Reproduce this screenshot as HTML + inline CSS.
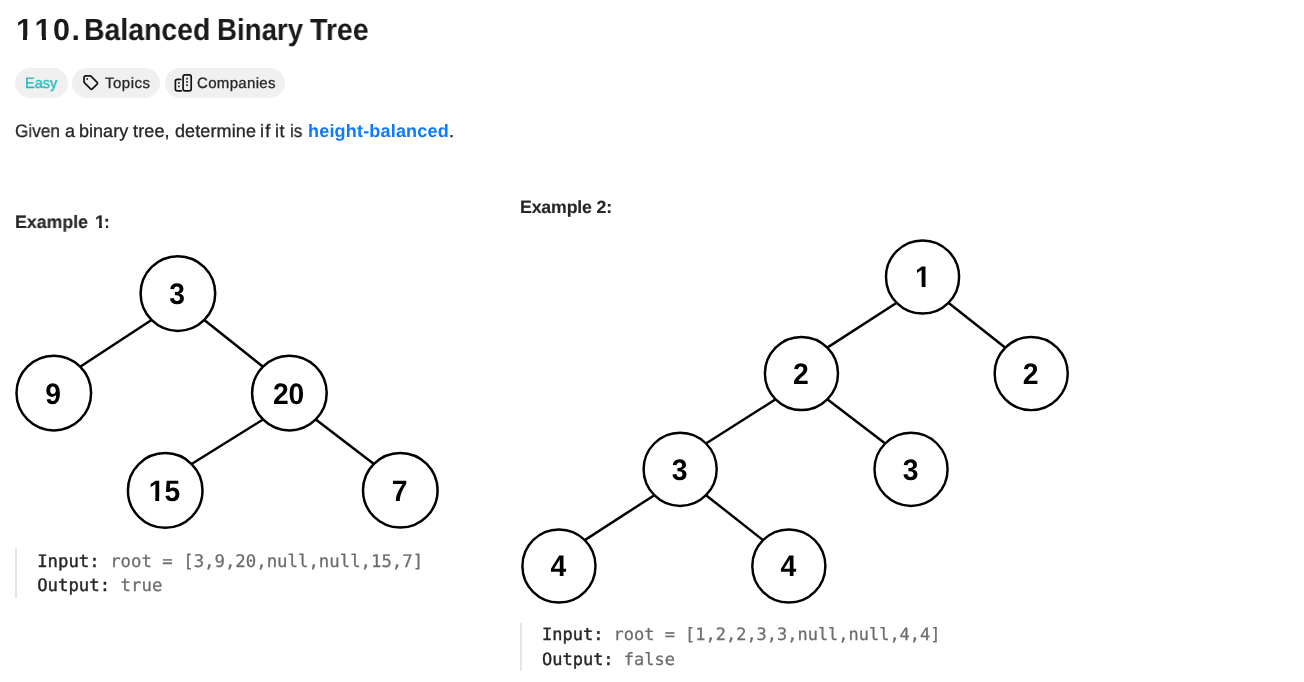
<!DOCTYPE html>
<html lang="en">
<head>
<meta charset="utf-8">
<title>110. Balanced Binary Tree</title>
<style>
html,body{margin:0;padding:0;background:#fff;}
body{width:1304px;height:682px;position:relative;overflow:hidden;font-family:"Liberation Sans",sans-serif;color:#262626;text-rendering:geometricPrecision;}
h1,p{margin:0;font-size:inherit;font-weight:inherit;}
.w{position:absolute;white-space:nowrap;line-height:1;transform-origin:0 0;will-change:transform;}
.t{font-size:30.5px;font-weight:700;color:#1a1a1a;}
.pl{font-size:15px;color:#262626;-webkit-text-stroke:0.3px;}
.pl.easy{color:#1cb8b8;}
.d{font-size:18px;color:#262626;-webkit-text-stroke:0.3px;}
.d.hl{font-weight:700;color:#0a7aff;-webkit-text-stroke:0;}
.ex{font-size:18px;font-weight:700;color:#262626;-webkit-text-stroke:0.15px;}
.m{position:absolute;background:#fff;will-change:transform;}
.pill{position:absolute;top:68px;height:29.6px;border-radius:15px;background:#f0f0f0;}
.ico{position:absolute;overflow:visible;}
pre{position:absolute;margin:0;box-sizing:border-box;border-left:2px solid #e6e6e6;font-family:"DejaVu Sans Mono","Liberation Mono",monospace;color:#6b6b6b;overflow:hidden;-webkit-text-stroke:0.25px #6b6b6b;}
pre b{color:#262626;font-weight:400;-webkit-text-stroke:0.38px #262626;}
svg.tree{position:absolute;left:0;top:0;}
svg.tree text{font-family:"Liberation Sans",sans-serif;font-weight:700;fill:#000;text-anchor:middle;text-rendering:geometricPrecision;}
</style>
</head>
<body>
<h1><span class="w t" style="left:16.18px;top:15px;font-kerning:none;letter-spacing:1.525px;">110.</span> <span class="w t" style="left:84.44px;top:15px;transform:scaleX(0.9314);">Balanced</span> <span class="w t" style="left:216.59px;top:15px;transform:scaleX(0.9067);">Binary</span> <span class="w t" style="left:309.75px;top:15px;transform:scaleX(0.9352);">Tree</span></h1>
<i class="m" style="left:17.30px;top:35.89px;width:6.00px;height:4.91px"></i><i class="m" style="left:27.48px;top:35.89px;width:5.61px;height:4.91px"></i><i class="m" style="left:35.78px;top:35.89px;width:6.00px;height:4.91px"></i><i class="m" style="left:45.97px;top:35.89px;width:5.61px;height:4.91px"></i>

<div class="pill" style="left:15px;width:52.6px;"></div>
<div class="pill" style="left:72.3px;width:87.3px;"></div>
<div class="pill" style="left:164.8px;width:120.6px;"></div>
<span class="w pl easy" style="left:24.69px;top:76px;transform:scaleX(0.9719);">Easy</span>
<svg class="ico" style="left:0;top:0;" width="300" height="110" viewBox="0 0 300 110" fill="none" stroke="#141414" stroke-width="1.7" stroke-linecap="round" stroke-linejoin="round">
<path d="M84.05 77.600Q84.05 75.900 85.750 75.900L90 75.900Q90.700 75.900 91.200 76.400L97.150 82.350Q98 83.200 97.150 84.050L92.300 88.900Q91.450 89.750 90.600 88.900L84.550 82.850Q84.05 82.350 84.05 81.650Z"/>
<circle cx="87.200" cy="79.050" r="0.950" fill="#262626" stroke="none"/>
<rect x="183.100" y="74.800" width="8.100" height="16" rx="1.900"/>
<path d="M180.700 79.400H177.300Q175.400 79.400 175.400 81.300V88.900Q175.400 90.800 177.300 90.800H181.300"/>
<g fill="#262626" stroke="none"><rect x="186.150" y="77.700" width="1.800" height="1.800" rx="0.500"/><rect x="186.150" y="80.950" width="1.800" height="1.800" rx="0.500"/><rect x="186.150" y="84.300" width="1.800" height="1.800" rx="0.500"/><rect x="178" y="82" width="1.800" height="1.800" rx="0.500"/><rect x="178" y="85.400" width="1.800" height="1.800" rx="0.500"/></g>
</svg>
<span class="w pl" style="left:105.12px;top:76px;letter-spacing:0.495px;">Topics</span>
<span class="w pl" style="left:197.15px;top:76px;letter-spacing:0.334px;">Companies</span>

<p><span class="w d" style="left:15.06px;top:122px;transform:scaleX(0.9556);">Given</span> <span class="w d" style="left:64.75px;top:122px;">a</span> <span class="w d" style="left:79.08px;top:122px;letter-spacing:0.025px;">binary</span> <span class="w d" style="left:132.95px;top:122px;letter-spacing:0.144px;">tree,</span> <span class="w d" style="left:175.25px;top:122px;letter-spacing:0.113px;">determine</span> <span class="w d" style="left:260.45px;top:122px;letter-spacing:1.350px;">if</span> <span class="w d" style="left:274.95px;top:122px;letter-spacing:0.475px;">it</span> <span class="w d" style="left:290.12px;top:122px;transform:scaleX(0.9438);">is</span> <span class="w d hl" style="left:308.35px;top:122px;letter-spacing:0.191px;">height-balanced</span><span class="w d" style="left:448.65px;top:122px;">.</span></p>

<p><span class="w ex" style="left:14.52px;top:213px;transform:scaleX(0.9865);">Example</span> <span class="w ex" style="left:94.88px;top:213px;font-kerning:none;letter-spacing:-1.225px;">1:</span></p>
<i class="m" style="left:95.21px;top:225.16px;width:3.87px;height:3.64px"></i><i class="m" style="left:101.55px;top:225.16px;width:3.64px;height:3.64px"></i>
<p><span class="w ex" style="left:519.98px;top:199px;font-size:17.7px;letter-spacing:-0.136px;">Example 2:</span></p>

<svg class="tree" width="1304" height="682" viewBox="0 0 1304 682">
<g id="tree1">
<g stroke="#000" stroke-width="2.5" fill="none">
<line x1="151.52" y1="319.98" x2="80.18" y2="366.72"/>
<line x1="204.28" y1="319.98" x2="263.02" y2="366.72"/>
<line x1="263.02" y1="419.48" x2="191.58" y2="464.02"/>
<line x1="315.78" y1="419.48" x2="373.92" y2="463.92"/>
<circle cx="177.90" cy="293.60" r="37.3" fill="#fff"/>
<circle cx="53.80" cy="393.10" r="37.3" fill="#fff"/>
<circle cx="289.40" cy="393.10" r="37.3" fill="#fff"/>
<circle cx="165.20" cy="490.40" r="37.3" fill="#fff"/>
<circle cx="400.30" cy="490.30" r="37.3" fill="#fff"/>
</g>
<g font-size="29.6">
<g transform="translate(177.10 304.20) scale(0.955 1)"><text>3</text></g>
<g transform="translate(53.00 403.70) scale(0.955 1)"><text>9</text></g>
<g transform="translate(288.60 403.70) scale(0.955 1)"><text>20</text></g>
<g transform="translate(164.40 501.00) scale(0.955 1)"><text>15</text><rect x="-15.40" y="-4.02" width="5.84" height="4.62" fill="#fff"/><rect x="-5.49" y="-4.02" width="5.47" height="4.62" fill="#fff"/></g>
<g transform="translate(399.50 500.90) scale(0.955 1)"><text>7</text></g>
</g>
</g>
<g id="tree2">
<g stroke="#000" stroke-width="2.45" fill="none">
<line x1="896.71" y1="302.79" x2="827.29" y2="347.61"/>
<line x1="948.39" y1="302.79" x2="1005.36" y2="347.71"/>
<line x1="775.61" y1="399.29" x2="705.99" y2="443.51"/>
<line x1="827.29" y1="399.29" x2="885.21" y2="443.51"/>
<line x1="654.31" y1="495.19" x2="584.79" y2="540.11"/>
<line x1="705.99" y1="495.19" x2="763.01" y2="540.11"/>
<circle cx="922.55" cy="276.95" r="36.55" fill="#fff"/>
<circle cx="801.45" cy="373.45" r="36.55" fill="#fff"/>
<circle cx="1031.20" cy="373.55" r="36.55" fill="#fff"/>
<circle cx="680.15" cy="469.35" r="36.55" fill="#fff"/>
<circle cx="911.05" cy="469.35" r="36.55" fill="#fff"/>
<circle cx="558.95" cy="565.95" r="36.55" fill="#fff"/>
<circle cx="788.85" cy="565.95" r="36.55" fill="#fff"/>
</g>
<g font-size="29.7">
<g transform="translate(922.95 287.45) scale(0.955 1)"><text>1</text><rect x="-7.19" y="-4.03" width="5.86" height="4.63" fill="#fff"/><rect x="2.75" y="-4.03" width="5.48" height="4.63" fill="#fff"/></g>
<g transform="translate(800.95 383.95) scale(0.955 1)"><text>2</text></g>
<g transform="translate(1030.70 384.05) scale(0.955 1)"><text>2</text></g>
<g transform="translate(679.65 479.85) scale(0.955 1)"><text>3</text></g>
<g transform="translate(910.55 479.85) scale(0.955 1)"><text>3</text></g>
<g transform="translate(558.45 576.45) scale(0.955 1)"><text>4</text></g>
<g transform="translate(788.35 576.45) scale(0.955 1)"><text>4</text></g>
</g>
</g>
</svg>

<pre style="left:15.0px;top:548.2px;height:49.4px;border-left-width:2.2px;padding-left:20.15px;font-size:17.34px;line-height:24.7px;padding-top:1.50px;"><b>Input:</b> root = [3,9,20,null,null,15,7]
<b>Output:</b> true</pre>
<pre style="left:520.3px;top:622.6px;height:48.6px;border-left-width:2.3px;padding-left:19.78px;font-size:16.985px;line-height:24.3px;padding-top:0.80px;"><b>Input:</b> root = [1,2,2,3,3,null,null,4,4]
<b>Output:</b> false</pre>
</body>
</html>
